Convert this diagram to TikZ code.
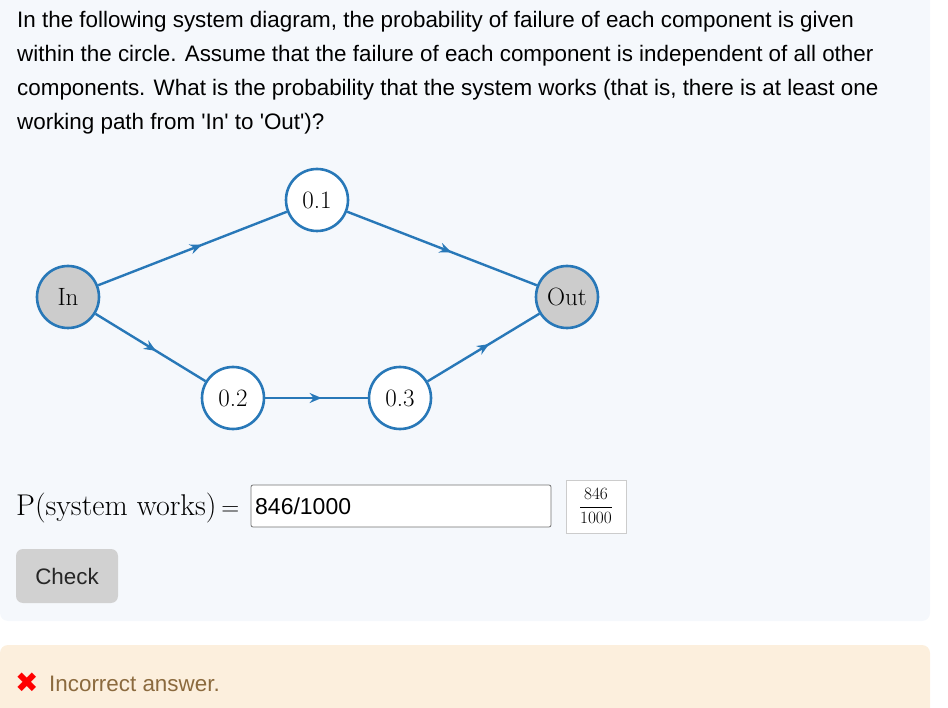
\documentclass[tikz,border=0pt]{standalone}
\usepackage{fontspec}
\setmainfont{Latin Modern Roman}
\newfontfamily\arial{Liberation Sans}
\newfontfamily\dejavu{DejaVu Sans}
\usetikzlibrary{decorations.markings,arrows.meta}
\definecolor{panel}{HTML}{F5F8FC}
\definecolor{warn}{HTML}{FCEFDD}
\definecolor{edge}{HTML}{2878B8}
\definecolor{brownt}{HTML}{8B6A3E}
\tikzset{
 comp/.style={circle,draw=edge,line width=2.6pt,fill=white,minimum size=62pt,inner sep=0pt,font=\fontsize{25}{27}\selectfont},
 term/.style={comp,fill=black!20},
 link/.style={draw=edge,line width=2.4pt,postaction={decorate},decoration={markings,mark=at position 0.55 with {\arrow{Stealth[length=12pt,width=10pt,inset=4pt]}}}},
 qtext/.style={anchor=base west,font=\arial\fontsize{22.4}{26}\selectfont,inner sep=0pt}
}
\begin{document}
\begin{tikzpicture}[x=1pt,y=-1pt]
\useasboundingbox (0,0) rectangle (948,708);
\fill[panel,rounded corners=8pt] (0,-10) rectangle (930,621);
\fill[warn,rounded corners=8pt] (0,645) rectangle (930,720);
\node[qtext] (q1) at (17,28) {In the following system diagram, the probability of failure of each component is given};
\node[qtext] (q2) at (17,62) {within the circle. Assume that the failure of each component is independent of all other};
\node[qtext] (q3) at (17,96) {components. What is the probability that the system works (that is, there is at least one};
\node[qtext] (q4) at (17,130) {working path from 'In' to 'Out')?};
\node[term] (in) at (68,297) {In};
\node[comp] (a) at (317,200) {0.1};
\node[term] (out) at (567,297) {Out};
\node[comp] (b) at (233,398) {0.2};
\node[comp] (c) at (400,398) {0.3};
\path[link] (in) -- (a);
\path[link] (a) -- (out);
\path[link] (in) -- (b);
\path[link] (b) -- (c);
\path[link] (c) -- (out);
\node[anchor=base west,inner sep=0pt,font=\fontsize{30}{32}\selectfont] (eq) at (16,515) {P(system works)\,$=$};
\draw[rounded corners=2pt,draw=black!55,fill=white,line width=0.8pt] (251,485) rectangle (551,527);
\node[anchor=base west,inner sep=0pt,font=\arial\fontsize{23}{26}\selectfont] (ans) at (255,514) {846/1000};
\draw[draw=black!20,fill=white,line width=0.8pt] (566,480) rectangle (626,533);
\node[inner sep=0pt,font=\fontsize{17}{19}\selectfont] (fr) at (596,506) {$\displaystyle\frac{846}{1000}$};
\fill[fill=black!18,rounded corners=7pt] (16,549) rectangle (118,603);
\node[font=\arial\fontsize{22.4}{26}\selectfont,text=black!85] (chk) at (67,576) {Check};
\node[anchor=west,inner sep=0pt,text=red,font=\dejavu\fontsize{28}{30}\selectfont] (x) at (15,683) {✖};
\node[anchor=base west,inner sep=0pt,text=brownt,font=\arial\fontsize{22.4}{26}\selectfont] (inc) at (49,691) {Incorrect answer.};
\end{tikzpicture}
\end{document}
